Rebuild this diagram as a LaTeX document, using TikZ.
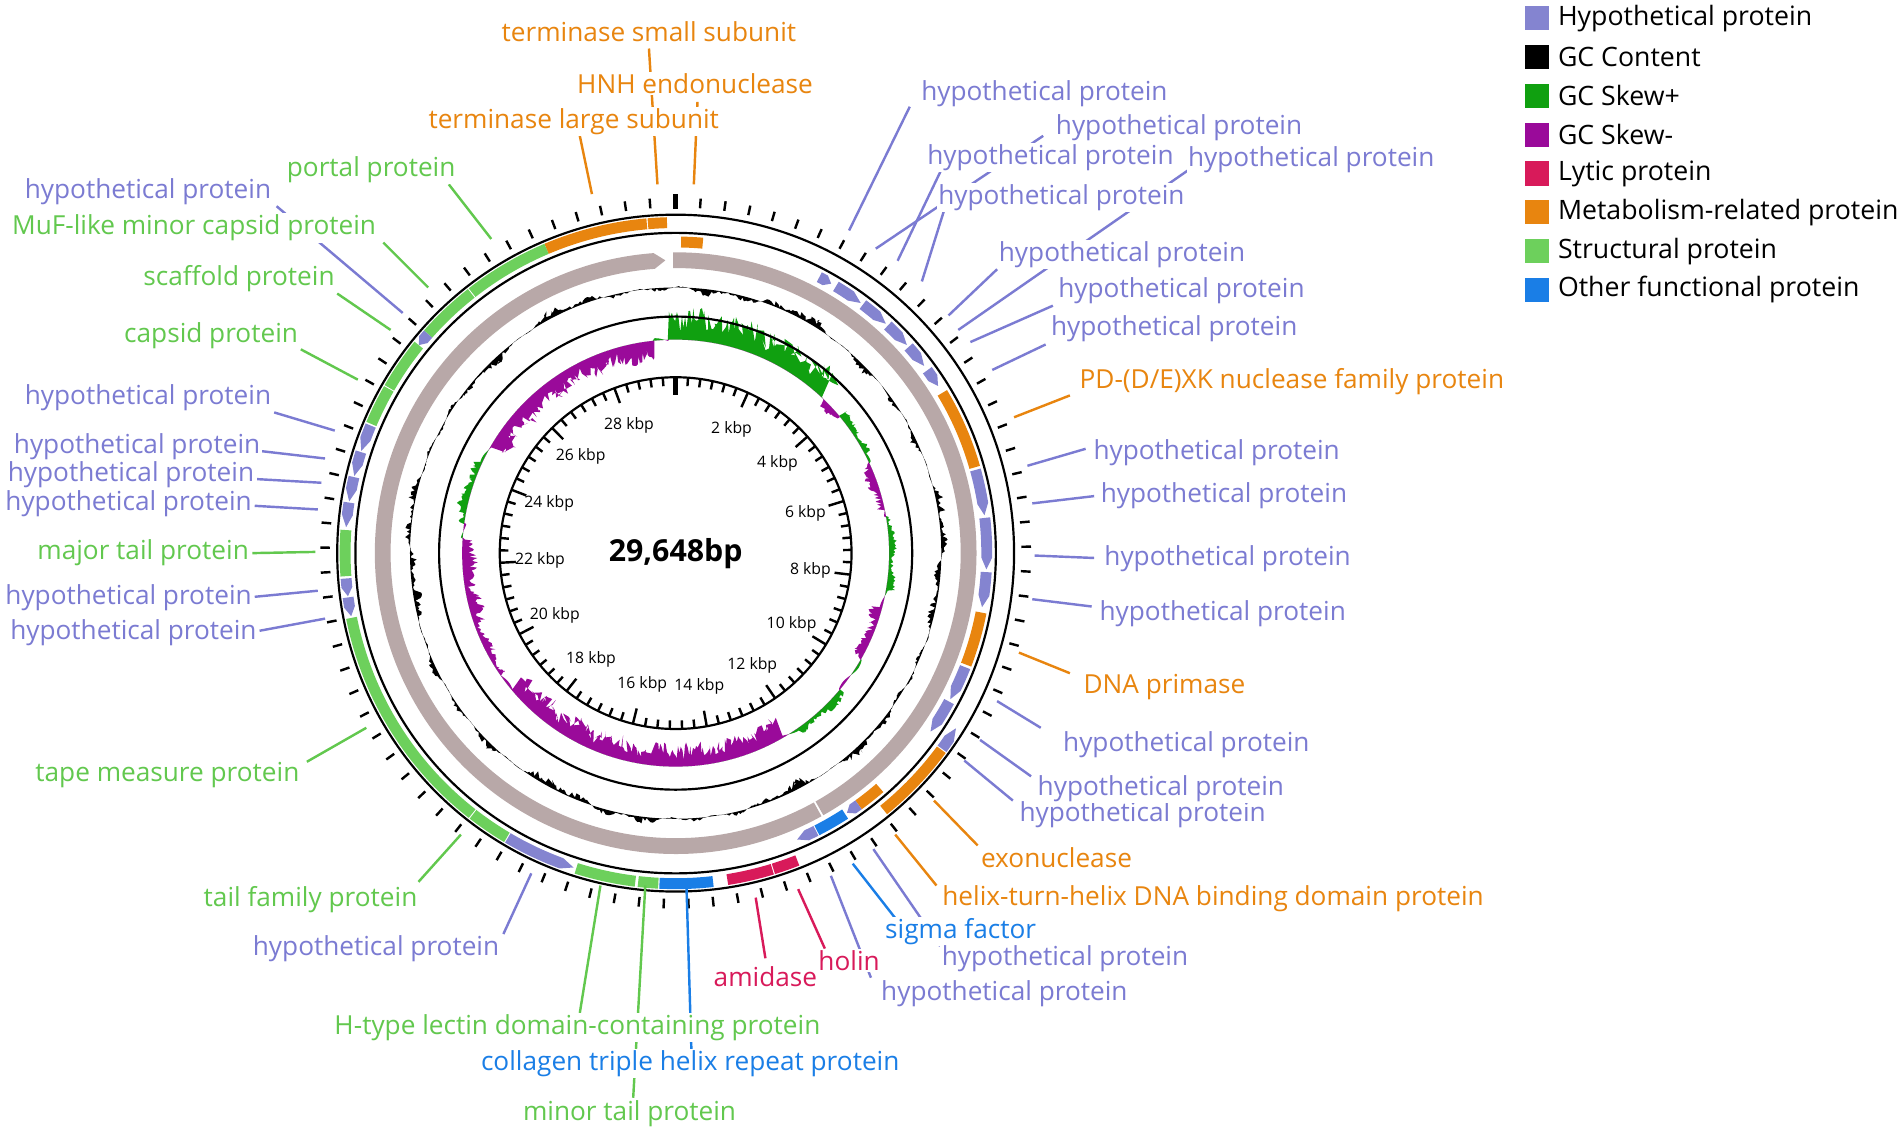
\documentclass[tikz,border=0pt]{standalone}
\usepackage{fontspec}
\setmainfont{Open Sans}
\definecolor{hyp}{HTML}{8484D0}
\definecolor{hypt}{HTML}{7B7BD2}
\definecolor{grn}{HTML}{6DD05C}
\definecolor{grnt}{HTML}{62C84E}
\definecolor{org}{HTML}{E8850F}
\definecolor{blu}{HTML}{1A7EE6}
\definecolor{lyt}{HTML}{D81A5A}
\definecolor{gry}{HTML}{B8A8A8}
\definecolor{skp}{HTML}{10A010}
\definecolor{skm}{HTML}{9A0A9A}
\newcommand\feat[5]{\fill[#5] (#1:#4) arc[start angle=#1,end angle=#2,radius=#4] -- (#2:#3) arc[start angle=#2,end angle=#1,radius=#3] -- cycle;}
% tip at #1 (clockwise pointing)
\newcommand\cwa[5]{\pgfmathsetmacro\hh{#1+min(2.2,(#2-#1)*0.5)}\pgfmathsetmacro\rm{(#3+#4)/2}%
\fill[#5] (#2:#4) arc[start angle=#2,end angle=\hh,radius=#4] -- (#1:\rm) -- (\hh:#3) arc[start angle=\hh,end angle=#2,radius=#3] -- cycle;}
% tip at #2 (counter-clockwise pointing)
\newcommand\ccwa[5]{\pgfmathsetmacro\hh{#2-min(2.2,(#2-#1)*0.5)}\pgfmathsetmacro\rm{(#3+#4)/2}%
\fill[#5] (#1:#4) arc[start angle=#1,end angle=\hh,radius=#4] -- (#2:\rm) -- (\hh:#3) arc[start angle=\hh,end angle=#1,radius=#3] -- cycle;}
\begin{document}
\begin{tikzpicture}[x=0.5pt,y=0.5pt,
  lab/.style={font=\fontsize{10.8}{12}\selectfont, fill=white, inner sep=0.6pt},
  lp/.style={lab,text=hypt}, lg/.style={lab,text=grnt}, lo/.style={lab,text=org},
  lb/.style={lab,text=blu}, lr/.style={lab,text=lyt},
  ln/.style={line width=1pt},
  kb/.style={font=\fontsize{6.5}{7}\selectfont},
  legt/.style={font=\fontsize{11}{12}\selectfont, anchor=west, inner sep=0pt},
  declare function={gsk(\t)=22*(\t>47)*(\t<92)-15*(\t>96)*(\t<150)+7*(\t>155)*(\t<172)-10*(\t>176)*(\t<200)-6*(\t>=200)*(\t<215)-17*(\t>220)*(\t<300)+6*(\t>305)*(\t<320)-8*(\t>330)*(\t<345)+5*(\t>350)+5*(\t<10)-7*(\t>12)*(\t<25)+6*(\t>28)*(\t<40)-5*(\t>=40)*(\t<46);}]
\pgfmathsetseed{7}
% ---------- frame ----------
\begin{scope}[yscale=-1,shift={(-557,-456)}]
\useasboundingbox (0,0) rectangle (1568,935);
\end{scope}
% ---------- gray ring ----------
\cwa{92}{299}{235}{248}{gry}
\feat{-60.6}{90.5}{235}{248}{gry}
% ---------- GC content ----------
\fill[black,even odd rule] plot[domain=0:360,samples=900] (\x:{219+(3*sin(7*\x+20)+2*sin(13*\x)+2*sin(37*\x+50))*(0.1+1.3*rnd)}) -- cycle (0,0) circle[radius=219];
% ---------- GC skew ----------
\fill[skp,even odd rule] plot[domain=0:360,samples=900] (\x:{176+max(gsk(\x)*(0.35+0.8*rnd)+2*sin(31*\x),0)}) -- cycle (0,0) circle[radius=176];
\fill[skm,even odd rule] plot[domain=0:360,samples=900] (\x:{176+min(gsk(\x)*(0.35+0.8*rnd)+2*sin(31*\x),0)}) -- cycle (0,0) circle[radius=176];
% ---------- circles ----------
\foreach \r in {279,264,195,145} \draw[line width=0.9pt] (0,0) circle[radius=\r];
% ---------- outer ticks ----------
\foreach \i in {1,...,88} \draw[line width=1pt] ({90-\i*4.0432}:285) -- ({90-\i*4.0432}:293);
\draw[line width=2.2pt] (90:284) -- (90:296);
% ---------- inner ticks ----------
\foreach \i in {1,...,88} {\pgfmathsetmacro\ll{mod(\i,6)==0 ? 132 : 138}
  \draw[line width=1pt] ({90-\i*4.0432}:145) -- ({90-\i*4.0432}:\ll);}
\draw[line width=2.2pt] (90:145) -- (90:130);
\foreach \k in {1,...,14} \node[kb] at ({90-\k*24.28}:112) {\the\numexpr2*\k\relax\ kbp};
\node[font=\bfseries\fontsize{12.5}{14}\selectfont] at (0,0) {29,648bp};
% ---------- outer feature ring ----------
\def\ra{268}\def\rb{277}
\feat{95}{113}{\ra}{\rb}{org}\feat{91.5}{94.8}{\ra}{\rb}{org}
\feat{113}{128}{\ra}{\rb}{grn}\feat{128.2}{138.5}{\ra}{\rb}{grn}
\ccwa{138.5}{141}{\ra}{\rb}{hyp}
\feat{141}{150}{\ra}{\rb}{grn}\feat{150.2}{157}{\ra}{\rb}{grn}
\ccwa{157.3}{162}{\ra}{\rb}{hyp}\ccwa{162.2}{166.5}{\ra}{\rb}{hyp}\ccwa{166.7}{171}{\ra}{\rb}{hyp}\ccwa{171.2}{175.5}{\ra}{\rb}{hyp}
\feat{176}{184}{\ra}{\rb}{grn}
\ccwa{184.4}{187.5}{\ra}{\rb}{hyp}\ccwa{187.7}{191}{\ra}{\rb}{hyp}
\feat{191.3}{232}{\ra}{\rb}{grn}\feat{232.2}{239.3}{\ra}{\rb}{grn}
\ccwa{239.5}{252}{\ra}{\rb}{hyp}
\feat{252.5}{263}{\ra}{\rb}{grn}\feat{263.5}{267}{\ra}{\rb}{grn}
\feat{267.2}{276.5}{\ra}{\rb}{blu}
\feat{279}{287}{\ra}{\rb}{lyt}\feat{287.2}{291.6}{\ra}{\rb}{lyt}
\feat{309}{323.5}{\ra}{\rb}{org}
\ccwa{323.7}{328}{\ra}{\rb}{hyp}
% ---------- inner feature ring ----------
\def\rc{252}\def\rd{261}
\feat{85}{89}{\rc}{\rd}{org}
\cwa{60}{62.5}{\rc}{\rd}{hyp}\cwa{53.5}{59}{\rc}{\rd}{hyp}\cwa{47.5}{53}{\rc}{\rd}{hyp}
\cwa{42}{47}{\rc}{\rd}{hyp}\cwa{37}{41.5}{\rc}{\rd}{hyp}\cwa{32.5}{36}{\rc}{\rd}{hyp}
\feat{16}{31}{\rc}{\rd}{org}
\cwa{7}{15.5}{\rc}{\rd}{hyp}\cwa{-3}{6.5}{\rc}{\rd}{hyp}\cwa{-10}{-3.5}{\rc}{\rd}{hyp}
\feat{-21}{-11}{\rc}{\rd}{org}
\cwa{-28}{-21.5}{\rc}{\rd}{hyp}\cwa{-35}{-28.5}{\rc}{\rd}{hyp}
\feat{306}{311}{\rc}{\rd}{org}
\cwa{303.4}{306}{\rc}{\rd}{hyp}
\feat{297}{303}{\rc}{\rd}{blu}
\cwa{293}{296.8}{\rc}{\rd}{hyp}
% ---------- labels (display coordinates) ----------
\begin{scope}[yscale=-1,shift={(-557,-456)}]
\draw[ln,org] (542,152) -- (535,40);
\draw[ln,org] (572,152) -- (575,84);
\draw[ln,org] (488,160) -- (478,112);
\draw[ln,grnt] (405,197) -- (370,152);
\draw[ln,hypt] (332,258) -- (228,170);
\draw[ln,grnt] (353,237) -- (316,200);
\draw[ln,grnt] (322,272) -- (278,242);
\draw[ln,grnt] (295,313) -- (248,288);
\draw[ln,hypt] (276,355) -- (226,340);
\draw[ln,hypt] (268,378) -- (216,372);
\draw[ln,hypt] (265,398) -- (212,395);
\draw[ln,hypt] (262,420) -- (210,417);
\draw[ln,grnt] (260,455) -- (208,456);
\draw[ln,hypt] (262,487) -- (210,492);
\draw[ln,hypt] (268,510) -- (214,520);
\draw[ln,grnt] (302,600) -- (253,628);
\draw[ln,grnt] (380,688) -- (345,727);
\draw[ln,hypt] (438,720) -- (415,770);
\draw[ln,grnt] (495,730) -- (478,835);
\draw[ln,grnt] (532,730) -- (522,905);
\draw[ln,blu] (566,733) -- (570,866);
\draw[ln,lyt] (623,740) -- (631,790);
\draw[ln,lyt] (658,733) -- (680,782);
\draw[ln,hypt] (685,722) -- (718,806);
\draw[ln,blu] (703,712) -- (742,762);
\draw[ln,hypt] (720,700) -- (775,780);
\draw[ln,org] (738,688) -- (772,730);
\draw[ln,org] (770,660) -- (806,697);
\draw[ln,hypt] (795,627) -- (835,660);
\draw[ln,hypt] (808,610) -- (850,640);
\draw[ln,hypt] (822,578) -- (858,600);
\draw[ln,org] (840,538) -- (882,555);
\draw[ln,hypt] (851,494) -- (900,500);
\draw[ln,hypt] (853,458) -- (902,460);
\draw[ln,hypt] (851,415) -- (902,409);
\draw[ln,hypt] (847,384) -- (895,370);
\draw[ln,org] (836,344) -- (882,326);
\draw[ln,hypt] (818,305) -- (862,284);
\draw[ln,hypt] (800,282) -- (868,252);
\draw[ln,hypt] (782,260) -- (822,222);
\draw[ln,hypt] (760,232) -- (780,168);
\draw[ln,hypt] (790,272) -- (980,140);
\draw[ln,hypt] (740,215) -- (776,140);
\draw[ln,hypt] (722,205) -- (860,112);
\draw[ln,hypt] (700,190) -- (750,88);
\node[lo] at (535,26) {terminase small subunit};
\node[lo] at (573,69) {HNH endonuclease};
\node[lo] at (473,100) {terminase large subunit};
\node[lg] at (306,140) {portal protein};
\node[lp] at (122,158) {hypothetical protein};
\node[lg] at (160,188) {MuF-like minor capsid protein};
\node[lg] at (197,230) {scaffold protein};
\node[lg] at (174,277) {capsid protein};
\node[lp] at (122,328) {hypothetical protein};
\node[lp] at (113,368) {hypothetical protein};
\node[lp] at (108,391) {hypothetical protein};
\node[lp] at (106,415) {hypothetical protein};
\node[lg] at (118,456) {major tail protein};
\node[lp] at (106,493) {hypothetical protein};
\node[lp] at (110,522) {hypothetical protein};
\node[lg] at (138,639) {tape measure protein};
\node[lg] at (256,742) {tail family protein};
\node[lp] at (310,782) {hypothetical protein};
\node[lg] at (476,847) {H-type lectin domain-containing protein};
\node[lb] at (569,877) {collagen triple helix repeat protein};
\node[lg] at (519,918) {minor tail protein};
\node[lr] at (631,805) {amidase};
\node[lr] at (700,792) {holin};
\node[lp] at (828,819) {hypothetical protein};
\node[lb] at (792,768) {sigma factor};
\node[lp] at (878,790) {hypothetical protein};
\node[lo] at (1000,741) {helix-turn-helix DNA binding domain protein};
\node[lo] at (871,707) {exonuclease};
\node[lp] at (942,672) {hypothetical protein};
\node[lp] at (957,650) {hypothetical protein};
\node[lp] at (978,614) {hypothetical protein};
\node[lo] at (960,566) {DNA primase};
\node[lp] at (1008,506) {hypothetical protein};
\node[lp] at (1012,461) {hypothetical protein};
\node[lp] at (1009,409) {hypothetical protein};
\node[lp] at (1003,373) {hypothetical protein};
\node[lo] at (1065,315) {PD-(D/E)XK nuclease family protein};
\node[lp] at (968,271) {hypothetical protein};
\node[lp] at (974,240) {hypothetical protein};
\node[lp] at (925,210) {hypothetical protein};
\node[lp] at (875,163) {hypothetical protein};
\node[lp] at (1081,132) {hypothetical protein};
\node[lp] at (866,130) {hypothetical protein};
\node[lp] at (972,105) {hypothetical protein};
\node[lp] at (861,77) {hypothetical protein};
\foreach \c/\t [count=\i from 0] in {hyp/Hypothetical protein,black/GC Content,skp/GC Skew+,skm/GC Skew-,lyt/Lytic protein,org/Metabolism-related protein,grn/Structural protein,blu/Other functional protein}{
  \fill[\c] (1257,{5+\i*32}) rectangle (1277,{25+\i*32});
  \node[legt] at (1284,{15+\i*32}) {\t};}
\end{scope}
\end{tikzpicture}
\end{document}
